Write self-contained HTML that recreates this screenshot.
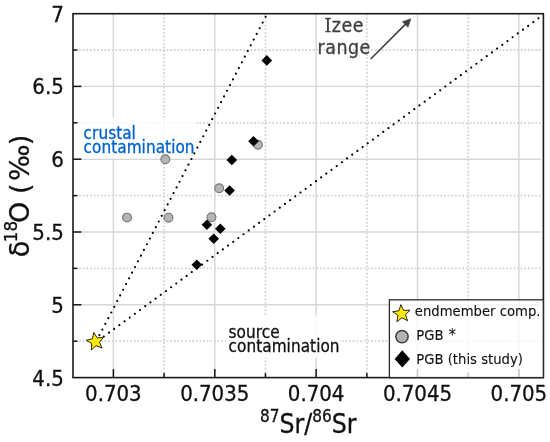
<!DOCTYPE html><html><head><meta charset="utf-8"><style>html,body{margin:0;padding:0;background:#fff;width:550px;height:442px;overflow:hidden}</style></head><body><svg width="550" height="442" viewBox="0 0 550 442" style="position:absolute;left:0;top:0;font-family:'DejaVu Sans Condensed','DejaVu Sans',sans-serif;font-stretch:condensed">
<rect width="550" height="442" fill="#fff"/>
<line x1="164.09" y1="13.7" x2="164.09" y2="377.6" stroke="#d4d4d4" stroke-width="1.8" stroke-dasharray="1.8 1.85"/>
<line x1="265.46" y1="13.7" x2="265.46" y2="377.6" stroke="#d4d4d4" stroke-width="1.8" stroke-dasharray="1.8 1.85"/>
<line x1="366.84" y1="13.7" x2="366.84" y2="377.6" stroke="#d4d4d4" stroke-width="1.8" stroke-dasharray="1.8 1.85"/>
<line x1="468.21" y1="13.7" x2="468.21" y2="377.6" stroke="#d4d4d4" stroke-width="1.8" stroke-dasharray="1.8 1.85"/>
<line x1="79.0" y1="341.20" x2="540.8" y2="341.20" stroke="#d4d4d4" stroke-width="1.8" stroke-dasharray="1.8 1.85"/>
<line x1="79.0" y1="268.40" x2="540.8" y2="268.40" stroke="#d4d4d4" stroke-width="1.8" stroke-dasharray="1.8 1.85"/>
<line x1="79.0" y1="195.60" x2="540.8" y2="195.60" stroke="#d4d4d4" stroke-width="1.8" stroke-dasharray="1.8 1.85"/>
<line x1="79.0" y1="122.80" x2="540.8" y2="122.80" stroke="#d4d4d4" stroke-width="1.8" stroke-dasharray="1.8 1.85"/>
<line x1="79.0" y1="50.00" x2="540.8" y2="50.00" stroke="#d4d4d4" stroke-width="1.8" stroke-dasharray="1.8 1.85"/>
<line x1="113.40" y1="13.7" x2="113.40" y2="377.6" stroke="#d6d6d6" stroke-width="1.4"/>
<line x1="214.78" y1="13.7" x2="214.78" y2="377.6" stroke="#d6d6d6" stroke-width="1.4"/>
<line x1="316.15" y1="13.7" x2="316.15" y2="377.6" stroke="#d6d6d6" stroke-width="1.4"/>
<line x1="417.53" y1="13.7" x2="417.53" y2="377.6" stroke="#d6d6d6" stroke-width="1.4"/>
<line x1="518.90" y1="13.7" x2="518.90" y2="377.6" stroke="#d6d6d6" stroke-width="1.4"/>
<line x1="82.5" y1="304.80" x2="540.8" y2="304.80" stroke="#d6d6d6" stroke-width="1.4"/>
<line x1="82.5" y1="232.00" x2="540.8" y2="232.00" stroke="#d6d6d6" stroke-width="1.4"/>
<line x1="82.5" y1="159.20" x2="540.8" y2="159.20" stroke="#d6d6d6" stroke-width="1.4"/>
<line x1="82.5" y1="86.40" x2="540.8" y2="86.40" stroke="#d6d6d6" stroke-width="1.4"/>
<rect x="79" y="117.5" width="115" height="41" fill="#fff" fill-opacity="0.8"/>
<rect x="226" y="315.5" width="113.5" height="42" fill="#fff" fill-opacity="0.8"/>
<clipPath id="pc"><rect x="73.0" y="13.7" width="470.4" height="363.90000000000003"/></clipPath>
<g clip-path="url(#pc)">
<line x1="96.43" y1="340.90" x2="268.57" y2="11.20" stroke="#000" stroke-width="2.2" stroke-linecap="round" stroke-dasharray="0 6.413"/>
<line x1="98.66" y1="340.30" x2="543.68" y2="14.52" stroke="#000" stroke-width="2.2" stroke-linecap="round" stroke-dasharray="0 6.413"/>
</g>
<line x1="113.40" y1="369.1" x2="113.40" y2="377.6" stroke="#111" stroke-width="1.5"/>
<line x1="214.78" y1="369.1" x2="214.78" y2="377.6" stroke="#111" stroke-width="1.5"/>
<line x1="316.15" y1="369.1" x2="316.15" y2="377.6" stroke="#111" stroke-width="1.5"/>
<line x1="417.53" y1="369.1" x2="417.53" y2="377.6" stroke="#111" stroke-width="1.5"/>
<line x1="518.90" y1="369.1" x2="518.90" y2="377.6" stroke="#111" stroke-width="1.5"/>
<line x1="164.09" y1="373.1" x2="164.09" y2="377.6" stroke="#111" stroke-width="1.5"/>
<line x1="265.46" y1="373.1" x2="265.46" y2="377.6" stroke="#111" stroke-width="1.5"/>
<line x1="366.84" y1="373.1" x2="366.84" y2="377.6" stroke="#111" stroke-width="1.5"/>
<line x1="468.21" y1="373.1" x2="468.21" y2="377.6" stroke="#111" stroke-width="1.5"/>
<line x1="73.0" y1="304.80" x2="81.5" y2="304.80" stroke="#111" stroke-width="1.5"/>
<line x1="73.0" y1="232.00" x2="81.5" y2="232.00" stroke="#111" stroke-width="1.5"/>
<line x1="73.0" y1="159.20" x2="81.5" y2="159.20" stroke="#111" stroke-width="1.5"/>
<line x1="73.0" y1="86.40" x2="81.5" y2="86.40" stroke="#111" stroke-width="1.5"/>
<line x1="73.0" y1="341.20" x2="77.5" y2="341.20" stroke="#111" stroke-width="1.5"/>
<line x1="73.0" y1="268.40" x2="77.5" y2="268.40" stroke="#111" stroke-width="1.5"/>
<line x1="73.0" y1="195.60" x2="77.5" y2="195.60" stroke="#111" stroke-width="1.5"/>
<line x1="73.0" y1="122.80" x2="77.5" y2="122.80" stroke="#111" stroke-width="1.5"/>
<line x1="73.0" y1="50.00" x2="77.5" y2="50.00" stroke="#111" stroke-width="1.5"/>
<circle cx="165.3" cy="159.3" r="4.4" fill="#b5b5b5" stroke="#727272" stroke-width="1.1"/>
<circle cx="127.0" cy="217.6" r="4.4" fill="#b5b5b5" stroke="#727272" stroke-width="1.1"/>
<circle cx="168.5" cy="217.7" r="4.4" fill="#b5b5b5" stroke="#727272" stroke-width="1.1"/>
<circle cx="211.5" cy="217.3" r="4.4" fill="#b5b5b5" stroke="#727272" stroke-width="1.1"/>
<circle cx="219.2" cy="188.3" r="4.4" fill="#b5b5b5" stroke="#727272" stroke-width="1.1"/>
<circle cx="258.0" cy="144.8" r="4.4" fill="#b5b5b5" stroke="#727272" stroke-width="1.1"/>
<path d="M231.8 154.7L237.10000000000002 160.0L231.8 165.3L226.5 160.0Z" fill="#000"/>
<path d="M229.6 185.2L234.9 190.5L229.6 195.8L224.29999999999998 190.5Z" fill="#000"/>
<path d="M206.9 219.5L212.20000000000002 224.8L206.9 230.10000000000002L201.6 224.8Z" fill="#000"/>
<path d="M220.3 223.5L225.60000000000002 228.8L220.3 234.10000000000002L215.0 228.8Z" fill="#000"/>
<path d="M213.7 233.5L219.0 238.8L213.7 244.10000000000002L208.39999999999998 238.8Z" fill="#000"/>
<path d="M253.5 135.89999999999998L258.8 141.2L253.5 146.5L248.2 141.2Z" fill="#000"/>
<path d="M266.8 55.1L272.1 60.4L266.8 65.7L261.5 60.4Z" fill="#000"/>
<path d="M196.8 259.5L202.10000000000002 264.8L196.8 270.1L191.5 264.8Z" fill="#000"/>
<polygon points="93.79,332.44 97.20,337.91 103.61,337.23 99.46,342.17 102.09,348.06 96.11,345.64 91.32,349.96 91.78,343.52 86.19,340.31 92.45,338.75" fill="#ffea00" stroke="#1a1a1a" stroke-width="0.95" stroke-linejoin="round"/>
<rect x="73.0" y="13.7" width="470.4" height="363.90000000000003" fill="none" stroke="#1a1a1a" stroke-width="1.6"/>
<rect x="389.4" y="299.8" width="154.0" height="77.80000000000001" fill="#fff" fill-opacity="0.75" stroke="#2a2a2a" stroke-width="1.3"/>
<polygon points="400.80,304.64 403.66,310.37 410.07,310.21 405.50,314.70 407.64,320.74 401.95,317.78 396.86,321.69 397.92,315.36 392.64,311.73 398.98,310.78" fill="#ffea00" stroke="#1a1a1a" stroke-width="0.95" stroke-linejoin="round"/>
<circle cx="402.0" cy="336.6" r="6.15" fill="#b4b4b4" stroke="#3c3c3c" stroke-width="1.5"/>
<path d="M402.3 350.2L410.0 358.9L402.3 367.6L394.6 358.9Z" fill="#000"/>
<g transform="translate(416,0) scale(0.99,1) translate(-416,0)"><text font-size="14.85" fill="#111" stroke="#111" stroke-width="0.1"><tspan x="414.8" y="316.4">endmember comp.</tspan><tspan x="416.2" y="339.9">PGB <tspan dx="1.0" dy="0.2" font-size="16">*</tspan></tspan><tspan x="416.2" y="363.6">PGB (this study)</tspan></text></g>
<text x="113.40" y="400.6" font-size="22" text-anchor="middle" fill="#111" stroke="#111" stroke-width="0.3">0.703</text>
<text x="214.78" y="400.6" font-size="22" text-anchor="middle" fill="#111" stroke="#111" stroke-width="0.3">0.7035</text>
<text x="316.15" y="400.6" font-size="22" text-anchor="middle" fill="#111" stroke="#111" stroke-width="0.3">0.704</text>
<text x="417.53" y="400.6" font-size="22" text-anchor="middle" fill="#111" stroke="#111" stroke-width="0.3">0.7045</text>
<text x="518.90" y="400.6" font-size="22" text-anchor="middle" fill="#111" stroke="#111" stroke-width="0.3">0.705</text>
<text x="63.8" y="385.60" font-size="22" text-anchor="end" fill="#111" stroke="#111" stroke-width="0.3">4.5</text>
<text x="63.8" y="312.80" font-size="22" text-anchor="end" fill="#111" stroke="#111" stroke-width="0.3">5</text>
<text x="63.8" y="240.00" font-size="22" text-anchor="end" fill="#111" stroke="#111" stroke-width="0.3">5.5</text>
<text x="63.8" y="167.20" font-size="22" text-anchor="end" fill="#111" stroke="#111" stroke-width="0.3">6</text>
<text x="63.8" y="94.40" font-size="22" text-anchor="end" fill="#111" stroke="#111" stroke-width="0.3">6.5</text>
<text x="63.8" y="21.60" font-size="22" text-anchor="end" fill="#111" stroke="#111" stroke-width="0.3">7</text>
<text x="308.2" y="432.6" font-size="26.3" text-anchor="middle" fill="#111" stroke="#111" stroke-width="0.3"><tspan font-size="17" dy="-10.6">87</tspan><tspan dy="10.6">Sr/</tspan><tspan font-size="17" dy="-10.6">86</tspan><tspan dy="10.6">Sr</tspan></text>
<text transform="translate(29,256) rotate(-90)" font-size="27" fill="#111" stroke="#111" stroke-width="0.3" style="font-stretch:normal;font-family:'DejaVu Sans',sans-serif"><tspan x="-1.3" y="0">δ</tspan><tspan x="13.8" y="-11.6" font-size="16.8">18</tspan><tspan x="33.0" y="0">O</tspan><tspan x="62.0" y="0">(</tspan><tspan x="75.2" y="0">‰</tspan><tspan x="110.8" y="0">)</tspan></text>
<text font-size="17" fill="#0062cc" stroke="#0062cc" stroke-width="0.3" letter-spacing="0.05"><tspan x="83.6" y="138.7">crustal</tspan><tspan x="83.6" y="153.0">contamination</tspan></text>
<text font-size="17" fill="#111" stroke="#111" stroke-width="0.3" letter-spacing="0.05"><tspan x="228.6" y="337.7">source</tspan><tspan x="228.6" y="351.9">contamination</tspan></text>
<text font-size="19.4" fill="#404040" stroke="#404040" stroke-width="0.3" text-anchor="middle" letter-spacing="0.5"><tspan x="344.2" y="32.0"><tspan style="font-family:'DejaVu Serif Condensed','DejaVu Serif',serif">I</tspan>zee</tspan><tspan x="344.2" y="54.3">range</tspan></text>
<line x1="370.7" y1="59" x2="405.8" y2="23.9" stroke="#404040" stroke-width="1.6"/>
<path d="M410.9 18.8L402.4 21.7L408.0 27.3Z" fill="#404040" stroke="#404040" stroke-width="0.6" stroke-linejoin="round"/>
</svg></body></html>
